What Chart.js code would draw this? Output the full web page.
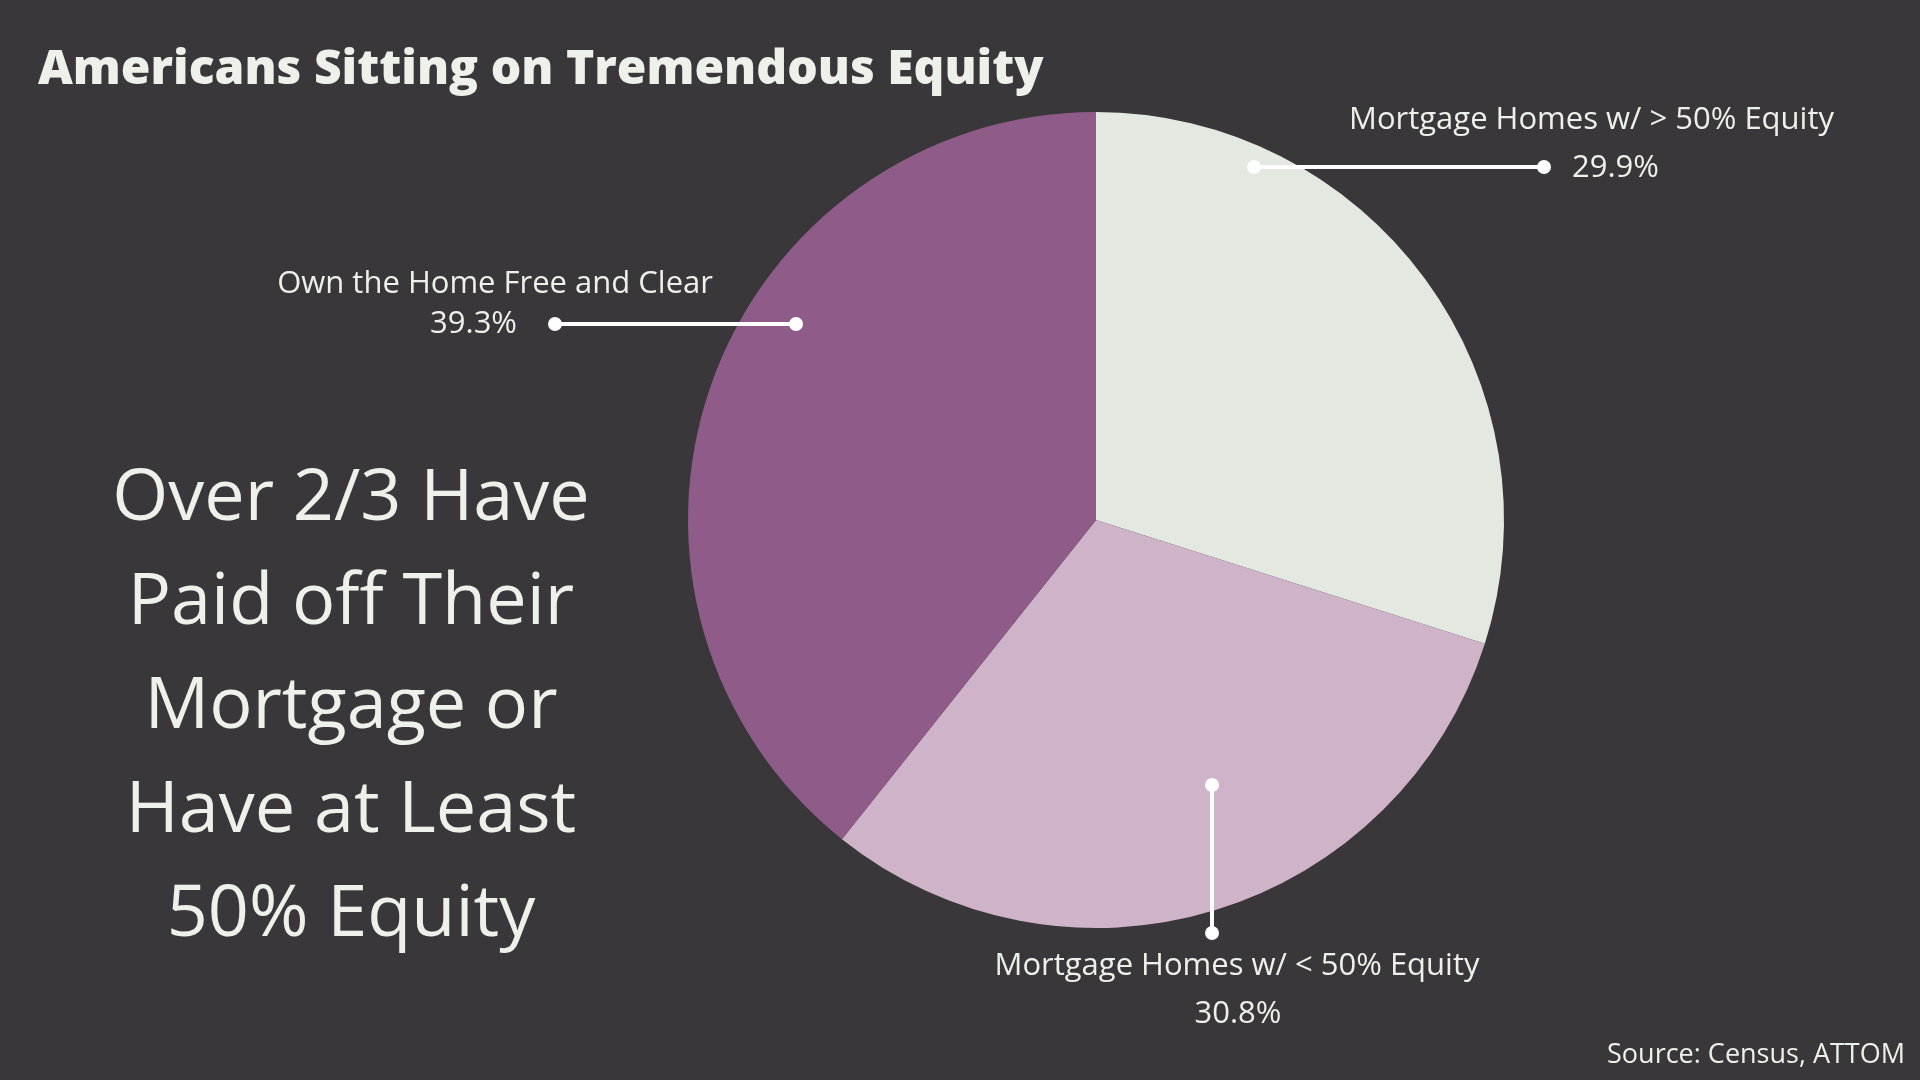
<!DOCTYPE html>
<html><head><meta charset="utf-8">
<script src="https://cdn.jsdelivr.net/npm/chart.js@4"></script>
<style>
html,body{margin:0;padding:0;background:#39373a;overflow:hidden}
#wrap{position:relative;width:1920px;height:1080px;font-family:"Open Sans",sans-serif;color:#eef0ea}
canvas{position:absolute;left:0;top:0}
.t{position:absolute;white-space:nowrap;line-height:1}
.ln{position:absolute;background:#fff}
.dot{position:absolute;width:14px;height:14px;border-radius:50%;background:#fff}
</style></head><body>
<div id="wrap">
<canvas id="c" width="1920" height="1080"></canvas>
<div class="t" style="left:38px;top:42px;font-size:48px;font-weight:800;letter-spacing:0px">Americans Sitting on Tremendous Equity</div>
<div class="t" style="left:1349px;top:102px;font-size:31px">Mortgage Homes w/ &gt; 50% Equity</div>
<div class="t" style="left:1572px;top:150px;font-size:31px">29.9%</div>
<div class="t" style="right:1207px;top:266px;font-size:31px;text-align:right">Own the Home Free and Clear</div>
<div class="t" style="right:1403px;top:306px;font-size:31px">39.3%</div>
<div class="t" style="left:1237px;top:948px;font-size:31px;transform:translateX(-50%)">Mortgage Homes w/ &lt; 50% Equity</div>
<div class="t" style="left:1238px;top:996px;font-size:31px;transform:translateX(-50%)">30.8%</div>
<div class="t" style="left:351px;top:440px;font-size:72px;line-height:104px;text-align:center;transform:translateX(-50%)">Over 2/3 Have<br>Paid off Their<br>Mortgage or<br>Have at Least<br>50% Equity</div>
<div class="t" style="right:15px;top:1039px;font-size:27px">Source: Census, ATTOM</div>
<div class="ln" style="left:1254px;top:165px;width:290px;height:4px"></div>
<div class="dot" style="left:1247px;top:160px"></div><div class="dot" style="left:1537px;top:160px"></div>
<div class="ln" style="left:555px;top:322px;width:241px;height:4px"></div>
<div class="dot" style="left:548px;top:317px"></div><div class="dot" style="left:789px;top:317px"></div>
<div class="ln" style="left:1210px;top:785px;width:4px;height:148px"></div>
<div class="dot" style="left:1205px;top:778px"></div><div class="dot" style="left:1205px;top:926px"></div>
</div>
<script>
const categories=["Mortgage Homes w/ > 50% Equity","Mortgage Homes w/ < 50% Equity","Own the Home Free and Clear"];
const values=[29.9,30.8,39.3];
const colors=["#e3e8e0","#cfb3c9","#8f5b88"];
new Chart(document.getElementById('c'),{
 type:'pie',
 data:{labels:categories,datasets:[{data:values,backgroundColor:colors,borderWidth:0}]},
 options:{responsive:false,animation:false,
  layout:{padding:{top:112,bottom:152,left:688,right:416}},
  plugins:{legend:{display:false},tooltip:{enabled:false}}}
});
</script>
</body></html>
